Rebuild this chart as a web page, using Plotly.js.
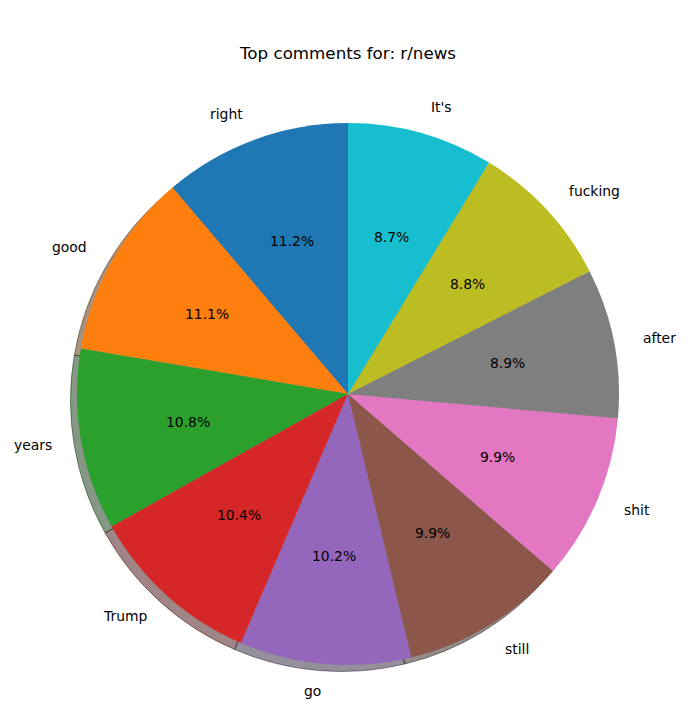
<!DOCTYPE html>
<html>
<head>
<meta charset="utf-8">
<script src="https://cdn.plot.ly/plotly-3.0.1.min.js"></script>
<style>
  body { margin: 0; background: #fff; }
  #piePlot { width: 696px; height: 723px; }
</style>
</head>
<body>
<div id="piePlot"></div>
<script>
// words and their share of the top comments (percent)
var words = ["right", "good", "years", "Trump", "go", "still", "shit", "after", "fucking", "It's"];
var shares = [11.2, 11.1, 10.8, 10.4, 10.2, 9.9, 9.9, 8.9, 8.8, 8.7];
var colors = ["#1f77b4", "#ff7f0e", "#2ca02c", "#d62728", "#9467bd",
              "#8c564b", "#e377c2", "#7f7f7f", "#bcbd22", "#17becf"];

var W = 696, H = 723;
var cx = 348, cy = 394, R = 271;   // pixel centre / radius of the pie
var off = 6.5;                      // shadow offset in px

function dom(dx, dy) {
    return {
        x: [(cx - R + dx) / W, (cx + R + dx) / W],
        y: [(H - cy - R + dy) / H, (H - cy + R + dy) / H]
    };
}

// matplotlib style shadow: wedge colour * 0.3 with alpha 0.5
function shade(hex) {
    var r = parseInt(hex.substr(1, 2), 16) * 0.3;
    var g = parseInt(hex.substr(3, 2), 16) * 0.3;
    var b = parseInt(hex.substr(5, 2), 16) * 0.3;
    return "rgba(" + Math.round(r) + "," + Math.round(g) + "," + Math.round(b) + ",0.5)";
}
var shadowCols = colors.map(shade);

var total = shares.reduce(function (a, b) { return a + b; }, 0);
// plotly puts the first counterclockwise slice to the right of 12 o'clock;
// turn it so the first slice starts at 12 o'clock like matplotlib startangle=90
var rot = -shares[0] / total * 360;

var shadow = {
    type: "pie", values: shares, labels: words, sort: false,
    direction: "counterclockwise", rotation: rot,
    domain: dom(-off, -off), textinfo: "none", hoverinfo: "skip",
    marker: { colors: shadowCols, line: { color: shadowCols, width: 1 } },
    showlegend: false
};
var pie = {
    type: "pie", values: shares, labels: words, sort: false,
    direction: "counterclockwise", rotation: rot,
    domain: dom(0, 0), textinfo: "none", hoverinfo: "label+value",
    marker: { colors: colors, line: { width: 0 } },
    showlegend: false
};

// labels at 1.1 R and percentages at 0.6 R, like matplotlib
var notes = [];
var cum = 0;
shares.forEach(function (v, i) {
    var ang = (90 + (cum + v / 2) / total * 360) * Math.PI / 180;
    cum += v;
    var c = Math.cos(ang), s = Math.sin(ang);
    notes.push({
        text: words[i], showarrow: false, xref: "paper", yref: "paper",
        x: (cx + 1.1 * R * c) / W, y: (H - cy + 1.1 * R * s) / H,
        xanchor: c > 0 ? "left" : "right", yanchor: "middle",
        font: { size: 13.9, color: "#000" }
    });
    notes.push({
        text: v.toFixed(1) + "%", showarrow: false, xref: "paper", yref: "paper",
        x: (cx + 0.6 * R * c) / W, y: (H - cy + 0.6 * R * s) / H,
        xanchor: "center", yanchor: "middle",
        font: { size: 13.9, color: "#000" }
    });
});

Plotly.newPlot("piePlot", [shadow, pie], {
    width: W, height: H,
    margin: { l: 0, r: 0, t: 0, b: 0 },
    paper_bgcolor: "#fff",
    font: { family: "DejaVu Sans", color: "#000" },
    title: {
        text: "Top comments for: r/news", font: { size: 16.7, color: "#000" },
        x: 0.5, xanchor: "center", y: 1 - 53 / H, yanchor: "middle"
    },
    annotations: notes
}, { staticPlot: true });
</script>
</body>
</html>
